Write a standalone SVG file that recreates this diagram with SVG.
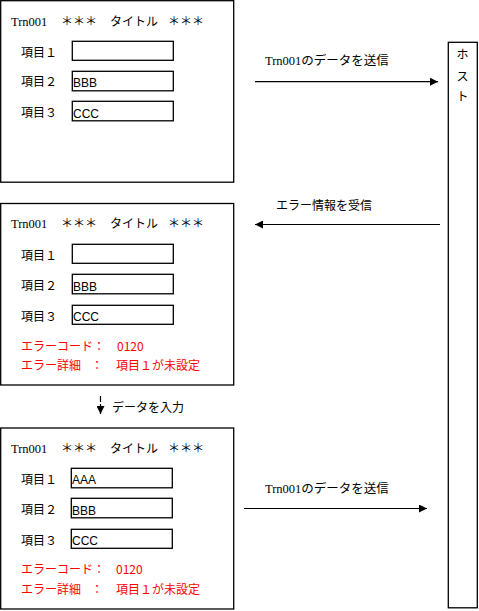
<svg xmlns="http://www.w3.org/2000/svg" width="479" height="611" viewBox="0 0 479 611">
<style>
.frame{fill:#fff;stroke:#000;stroke-width:1.3}
.field{fill:#fff;stroke:#000;stroke-width:1.3}
.t{font-family:"Liberation Serif","Noto Sans CJK JP",serif;font-size:12.5px;fill:#000}
.j{font-family:"Noto Sans CJK JP",sans-serif;font-size:12px;fill:#000}
.s{font-family:"Noto Sans CJK JP","Noto Sans CJK SC",sans-serif;font-size:12px;fill:#000;font-variant-emoji:text}
.v{font-family:"Liberation Sans","Noto Sans CJK JP",sans-serif;font-size:12px;fill:#000}
.r{font-family:"Noto Sans CJK JP",sans-serif;font-size:12px;fill:#f00}
.c{stroke:#000;stroke-width:1.2;fill:none}
</style>
<defs>
<marker id="ah" viewBox="0 0 10 10" refX="10" refY="5" markerWidth="8" markerHeight="8" markerUnits="userSpaceOnUse" orient="auto">
<path d="M0,0 L10,5 L0,10 Z" fill="#000"/>
</marker>
</defs>
<rect width="479" height="611" fill="#fff"/>

<g id="screen1">
<rect class="frame" x="0.7" y="0.7" width="233" height="181.5"/>
<text class="t" x="11" y="26">Trn001</text>
<text class="s" x="61" y="26">＊＊＊</text>
<text class="j" x="110" y="26">タイトル</text>
<text class="s" x="168" y="26">＊＊＊</text>
<text class="j" x="21" y="57">項目１</text>
<rect class="field" x="72.3" y="41.3" width="101" height="19"/>
<text class="j" x="21" y="86">項目２</text>
<rect class="field" x="72.3" y="71.3" width="101" height="19.5"/>
<text class="v" x="73" y="87">BBB</text>
<text class="j" x="21" y="117">項目３</text>
<rect class="field" x="72.3" y="101.3" width="101" height="19.5"/>
<text class="v" x="73" y="118">CCC</text>
</g>

<g id="screen2">
<rect class="frame" x="0.7" y="203.5" width="233" height="181.5"/>
<text class="t" x="11" y="228">Trn001</text>
<text class="s" x="61" y="228">＊＊＊</text>
<text class="j" x="110" y="228">タイトル</text>
<text class="s" x="168" y="228">＊＊＊</text>
<text class="j" x="21" y="259.5">項目１</text>
<rect class="field" x="72.3" y="244.3" width="101" height="19"/>
<text class="j" x="21" y="290">項目２</text>
<rect class="field" x="72.3" y="274.3" width="101" height="19.5"/>
<text class="v" x="73" y="291">BBB</text>
<text class="j" x="21" y="321">項目３</text>
<rect class="field" x="72.3" y="305.3" width="101" height="19"/>
<text class="v" x="73" y="321">CCC</text>
<text class="r" x="21" y="351">エラーコード：</text>
<text class="r" x="117" y="351">0120</text>
<text class="r" x="21" y="370">エラー詳細</text>
<text class="r" x="91" y="370">：</text>
<text class="r" x="116" y="370">項目１が未設定</text>
</g>

<g id="screen3">
<rect class="frame" x="0.7" y="428" width="233" height="181"/>
<text class="t" x="11" y="453">Trn001</text>
<text class="s" x="61" y="453">＊＊＊</text>
<text class="j" x="110" y="453">タイトル</text>
<text class="s" x="168" y="453">＊＊＊</text>
<text class="j" x="21" y="484">項目１</text>
<rect class="field" x="71.3" y="468.3" width="101" height="19.5"/>
<text class="v" x="72" y="484">AAA</text>
<text class="j" x="21" y="514">項目２</text>
<rect class="field" x="71.3" y="498.3" width="101" height="19.5"/>
<text class="v" x="72" y="515">BBB</text>
<text class="j" x="21" y="545">項目３</text>
<rect class="field" x="71.3" y="529.3" width="101" height="19"/>
<text class="v" x="72" y="545">CCC</text>
<text class="r" x="21" y="574">エラーコード：</text>
<text class="r" x="116" y="574">0120</text>
<text class="r" x="21" y="594">エラー詳細</text>
<text class="r" x="91" y="594">：</text>
<text class="r" x="116" y="594">項目１が未設定</text>
</g>

<g id="host">
<rect class="frame" x="448.3" y="42.3" width="29" height="565.5"/>
<text class="j" x="462.5" y="59" text-anchor="middle" font-size="11">ホ</text>
<text class="j" x="462.5" y="81" text-anchor="middle" font-size="11">ス</text>
<text class="j" x="462.5" y="101" text-anchor="middle" font-size="11">ト</text>
</g>

<g id="connectors">
<line class="c" x1="255" y1="81.7" x2="438" y2="81.7" marker-end="url(#ah)"/>
<text class="t" x="265" y="65">Trn001のデータを送信</text>
<line class="c" x1="440" y1="224.5" x2="255" y2="224.5" marker-end="url(#ah)"/>
<text class="j" x="276" y="210">エラー情報を受信</text>
<line class="c" x1="244" y1="508.5" x2="427" y2="508.5" marker-end="url(#ah)"/>
<text class="t" x="265" y="493">Trn001のデータを送信</text>
<line class="c" x1="100.5" y1="396" x2="100.5" y2="414" stroke-dasharray="6,2" marker-end="url(#ah)"/>
<text class="j" x="112" y="412">データを入力</text>
</g>
</svg>
